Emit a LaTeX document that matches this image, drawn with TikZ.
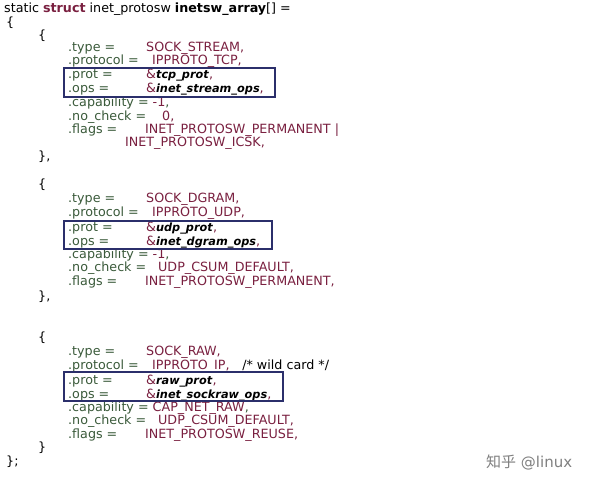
\documentclass[tikz,border=0pt]{standalone}
\usepackage{fontspec}
\setmainfont{DejaVu Sans}
\newfontfamily\cjk{Noto Sans CJK SC}
\newcommand{\bi}[1]{\textcolor{black}{\fontsize{11.3}{14}\selectfont\textbf{\textit{#1}}}}
\begin{document}
\definecolor{fld}{HTML}{3A5A3A}
\definecolor{val}{HTML}{7A2040}
\definecolor{bx}{HTML}{2B2F6B}
\begin{tikzpicture}[x=1pt,y=-1pt,
  t/.style={anchor=base west,inner sep=0pt,font=\fontsize{12.7}{14}\selectfont},
  f/.style={t,text=fld}, v/.style={t,text=val},
  box/.style={draw=bx,line width=1.6pt}]
\useasboundingbox (0,0) rectangle (600,481);
\fill[white] (0,0) rectangle (600,481);
\node[t] (h) at (4,13) {static \textcolor{val}{\textbf{struct}} inet\_protosw \textbf{inetsw\_array}[] =};
\node[t] (o1) at (6,27) {\{};
% block 1
\node[t] (b1) at (38,40) {\{};
\node[f] (a1) at (68,52) {.type =};       \node[v] (a1v) at (146,52) {SOCK\_STREAM,};
\node[f] (a2) at (68,65) {.protocol =};   \node[v] (a2v) at (152,65) {IPPROTO\_TCP,};
\node[f] (a3) at (68,79) {.prot =};       \node[v] (a3v) at (146,79) {\&\bi{tcp\_prot},};
\node[f] (a4) at (68,93) {.ops =};        \node[v] (a4v) at (146,93) {\&\bi{inet\_stream\_ops},};
\node[f] (a5) at (68,107) {.capability = \textcolor{val}{-1},};
\node[f] (a6) at (68,121) {.no\_check =};  \node[v] (a6v) at (162,121) {0,};
\node[f] (a7) at (68,134) {.flags =};     \node[v] (a7v) at (145,134) {INET\_PROTOSW\_PERMANENT |};
\node[v] (a8v) at (125,147) {INET\_PROTOSW\_ICSK,};
\node[t] (c1) at (38,161) {\},};
\draw[box] (64,68) rectangle (275,97);
% block 2
\node[t] (b2) at (38,189) {\{};
\node[f] (d1) at (68,203) {.type =};      \node[v] (d1v) at (146,203) {SOCK\_DGRAM,};
\node[f] (d2) at (68,217) {.protocol =};  \node[v] (d2v) at (152,217) {IPPROTO\_UDP,};
\node[f] (d3) at (68,232) {.prot =};      \node[v] (d3v) at (146,232) {\&\bi{udp\_prot},};
\node[f] (d4) at (68,246) {.ops =};       \node[v] (d4v) at (146,246) {\&\bi{inet\_dgram\_ops},};
\node[f] (d5) at (68,259) {.capability = \textcolor{val}{-1},};
\node[f] (d6) at (68,272) {.no\_check =}; \node[v] (d6v) at (158,272) {UDP\_CSUM\_DEFAULT,};
\node[f] (d7) at (68,286) {.flags =};     \node[v] (d7v) at (145,286) {INET\_PROTOSW\_PERMANENT,};
\node[t] (c2) at (38,300) {\},};
\draw[box] (64,221) rectangle (272,249);
% block 3
\node[t] (b3) at (38,341) {\{};
\node[f] (e1) at (68,355) {.type =};      \node[v] (e1v) at (146,355) {SOCK\_RAW,};
\node[f] (e2) at (68,369) {.protocol =};  \node[v] (e2v) at (152,369) {IPPROTO\_IP,\quad\textcolor{black}{/* wild card */}};
\node[f] (e3) at (68,384) {.prot =};      \node[v] (e3v) at (146,384) {\&\bi{raw\_prot},};
\node[f] (e4) at (68,398) {.ops =};       \node[v] (e4v) at (146,398) {\&\bi{inet\_sockraw\_ops},};
\node[f] (e5) at (68,411) {.capability = \textcolor{val}{CAP\_NET\_RAW},};
\node[f] (e6) at (68,424) {.no\_check =}; \node[v] (e6v) at (158,424) {UDP\_CSUM\_DEFAULT,};
\node[f] (e7) at (68,438) {.flags =};     \node[v] (e7v) at (145,438) {INET\_PROTOSW\_REUSE,};
\node[t] (c3) at (38,451) {\}};
\draw[box] (64,372) rectangle (283,401);
\node[t] (o2) at (6,465) {\};};
\node[t,text=gray,font=\fontsize{15}{17}\selectfont] (wm) at (486,467) {{\cjk 知乎} @linux};
\end{tikzpicture}
\end{document}
